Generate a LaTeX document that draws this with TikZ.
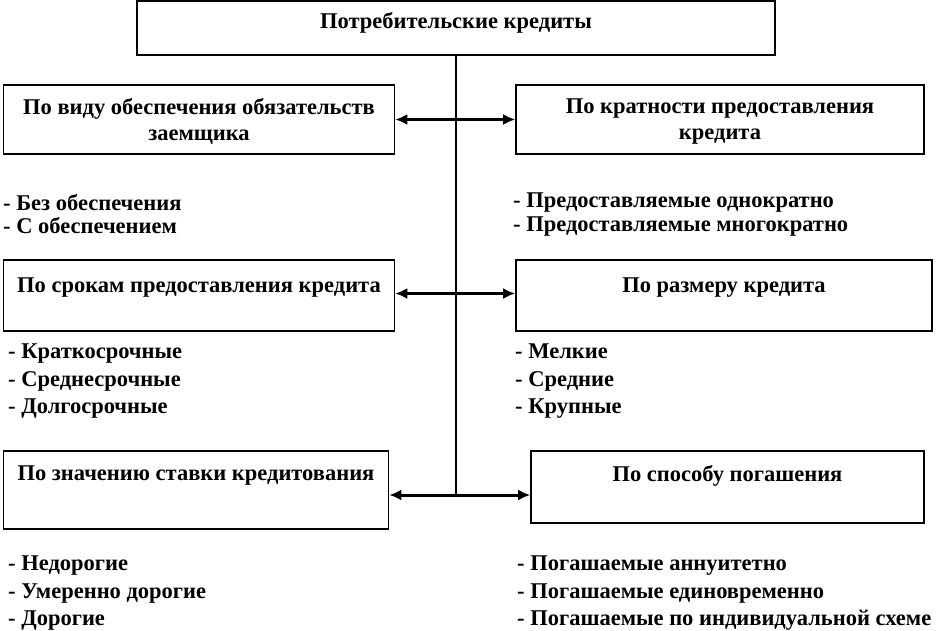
\documentclass[tikz,border=0pt]{standalone}
\usepackage{fontspec}
\setmainfont{Liberation Serif}
\usepackage{tikz}
\usetikzlibrary{arrows.meta}
\usetikzlibrary{calc}
\usetikzlibrary{positioning}
\tikzset{>={Latex[length=12pt,width=11pt]}}
\tikzset{catbox/.style={draw, line width=1.6pt, rectangle, inner sep=0pt}}
\tikzset{cattext/.style={font=\fontsize{22.5}{26}\selectfont\bfseries, align=center, anchor=north}}
\tikzset{itemlist/.style={font=\fontsize{22.5}{27.5}\selectfont\bfseries, align=left, anchor=north west, inner sep=0pt}}
\tikzset{shortlist/.style={itemlist, font=\fontsize{22.5}{23.5}\selectfont\bfseries}}
\tikzset{link/.style={line width=3pt}}

\begin{document}
\begin{tikzpicture}[x=1pt, y=-1pt]
        \useasboundingbox (0, 0) rectangle (936, 630);

        % Top box
        \node[catbox, minimum width=638pt, minimum height=54pt] (top) at (456, 28) {};
        \node[cattext] (toptext) at ($(top.north) + (0, 9)$) {Потребительские кредиты};

        % Category boxes
        \node[catbox, minimum width=391pt, minimum height=69pt] (left1) at (199, 119.5) {};
        \node[catbox, minimum width=408pt, minimum height=69pt] (right1) at (720, 119.5) {};
        \node[catbox, minimum width=391pt, minimum height=71pt] (left2) at (199, 295.5) {};
        \node[catbox, minimum width=416pt, minimum height=71pt] (right2) at (724, 295.5) {};
        \node[catbox, minimum width=385pt, minimum height=78pt] (left3) at (196, 490) {};
        \node[catbox, minimum width=393pt, minimum height=72pt] (right3) at (727.5, 487) {};

        % Box texts
        \node[cattext] (left1text) at ($(left1.north) + (0, 11)$) {По виду обеспечения обязательств\\заемщика};
        \node[cattext] (right1text) at ($(right1.north) + (0, 11)$) {По кратности предоставления\\кредита};
        \node[cattext] (left2text) at ($(left2.north) + (0, 15)$) {По срокам предоставления кредита};
        \node[cattext] (right2text) at ($(right2.north) + (0, 15)$) {По размеру кредита};
        \node[cattext] (left3text) at ($(left3.north) + (0, 12)$) {По значению ставки кредитования};
        \node[cattext] (right3text) at ($(right3.north) + (0, 12)$) {По способу погашения};

        % Lists
        \node[shortlist] (left1list) at (3, 194) {- Без обеспечения\\- С обеспечением};
        \node[shortlist] (right1list) at (513, 193) {- Предоставляемые однократно\\- Предоставляемые многократно};
        \node[itemlist] (left2list) at (8, 344) {- Краткосрочные\\- Среднесрочные\\- Долгосрочные};
        \node[itemlist] (right2list) at (515, 344) {- Мелкие\\- Средние\\- Крупные};
        \node[itemlist] (left3list) at (8, 556) {- Недорогие\\- Умеренно дорогие\\- Дорогие};
        \node[itemlist] (right3list) at (517, 556) {- Погашаемые аннуитетно\\- Погашаемые единовременно\\- Погашаемые по индивидуальной схеме};

        % Connectors
        \coordinate (trunkend) at (456, 495);
        \draw[line width=1.3pt] (top.south) -- (trunkend);
        \draw[link, <->] (left1.east) -- (right1.west);
        \draw[link, <->] ($(left2.east) + (0, -2)$) -- ($(right2.west) + (0, -2)$);
        \draw[link, <->] (left3.east |- trunkend) -- (right3.west |- trunkend);
    \end{tikzpicture}
\end{document}
